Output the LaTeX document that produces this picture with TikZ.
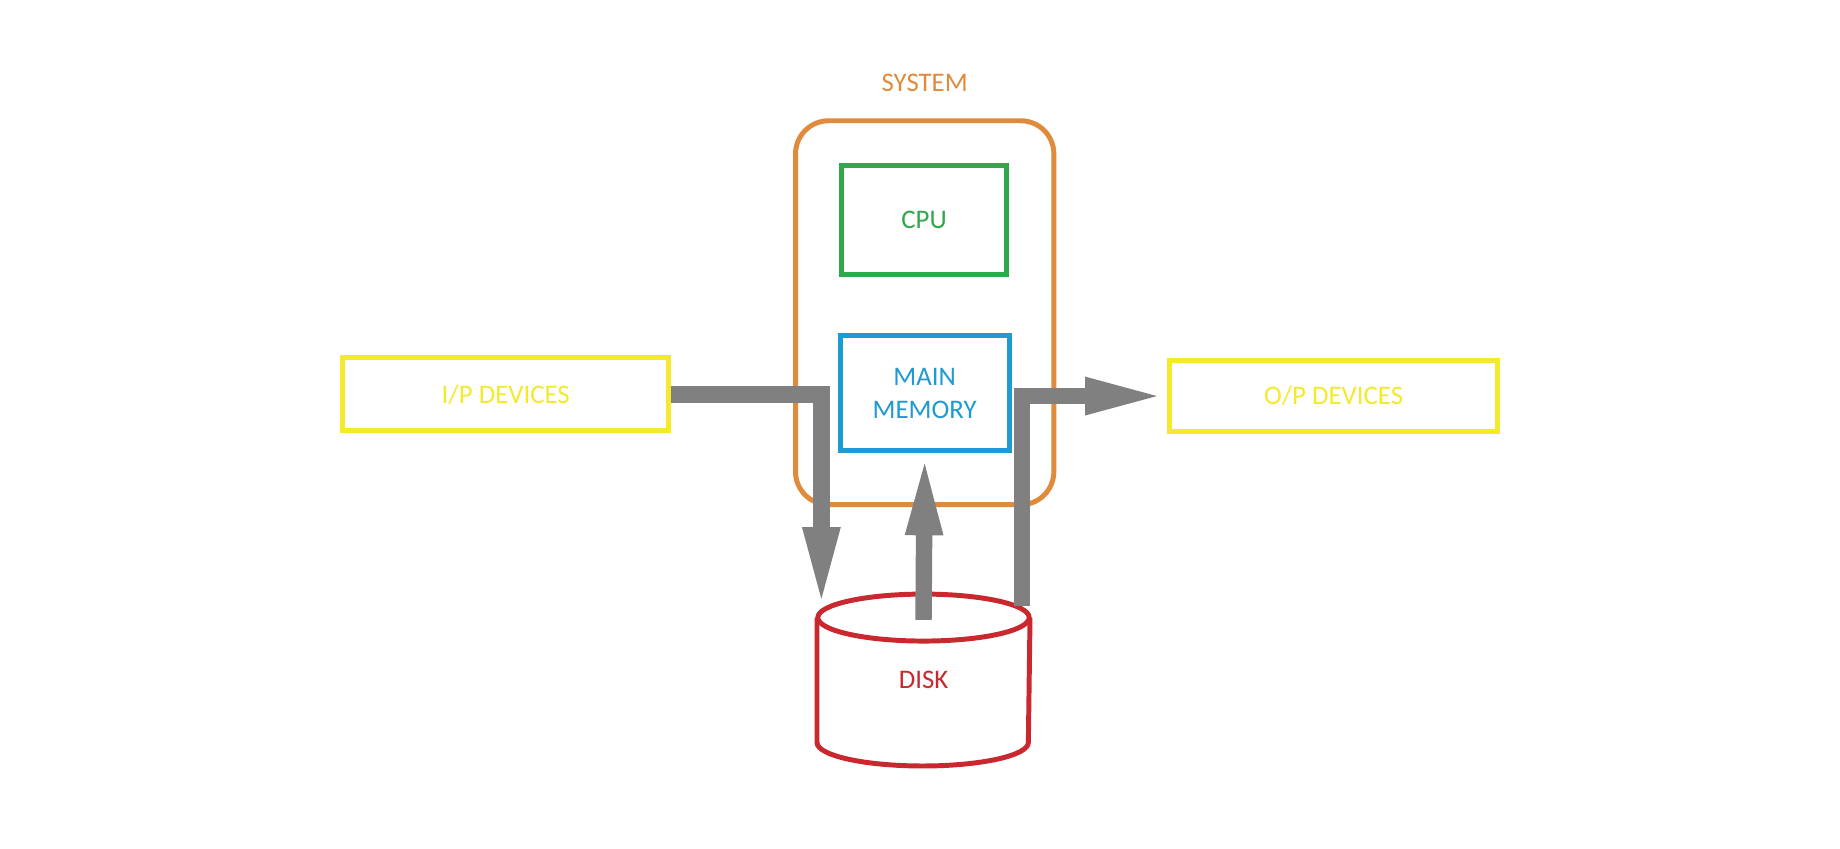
\documentclass[tikz,border=0pt]{standalone}
\usepackage{fontspec}
\setmainfont{Carlito}
\usetikzlibrary{positioning}
\usetikzlibrary {arrows.meta}
\definecolor{sysorange}{HTML}{E08A3C}
\definecolor{cpugreen}{HTML}{2EA84A}
\definecolor{memblue}{HTML}{1E9BD0}
\definecolor{devyellow}{HTML}{F2EA2A}
\definecolor{diskred}{HTML}{C8282E}
\definecolor{flowgray}{HTML}{808080}
\tikzset{unitbox/.style={rectangle,line width=1.2pt,fill=white,
inner sep=0pt,font=\fontsize{6.5}{8}\selectfont,align=center}}
\tikzset{flow/.style={line width=1.4mm,draw=flowgray,
-{Triangle[length=7mm,width=2.8mm]}}}

\begin{document}
\begin{tikzpicture}[x=0.01cm,y=-0.01cm]
        \useasboundingbox (0,0) rectangle (1568,723);

        \node[unitbox,draw=sysorange,rounded corners=8pt,minimum width=2.2cm,
              minimum height=3.27cm] (system) at (788,266.5) { };
        \node[text=sysorange,font=\fontsize{6.5}{8}\selectfont] (systemlbl) [above=0.1cm of system] {SYSTEM};

        \node[unitbox,draw=cpugreen,text=cpugreen,minimum width=1.41cm,
              minimum height=0.93cm] (cpu) at (787.5,187.5) {CPU};
        \node[unitbox,draw=memblue,text=memblue,minimum width=1.44cm,
              minimum height=0.98cm] (memory) at (788,335) {MAIN\\MEMORY};

        \node[unitbox,draw=devyellow,text=devyellow,minimum width=2.78cm,
              minimum height=0.62cm] (input) at (431,336) {I/P DEVICES};
        \node[unitbox,draw=devyellow,text=devyellow,minimum width=2.79cm,
              minimum height=0.61cm] (output) at (1136.5,337.5) {O/P DEVICES};

        % disk drawn as a cylinder around a plain node
        \node[rectangle,draw=none,minimum width=1.8cm,minimum height=1.05cm,
              text=diskred,font=\fontsize{6.5}{8}\selectfont] (disk) at (787,579.5) {DISK};
        \draw[diskred,line width=1.2pt] (disk.north west) -- (disk.south west)
             arc[start angle=180,end angle=360,x radius=0.9cm,y radius=0.2cm]
             -- (disk.north east);
        \draw[diskred,line width=1.2pt] (disk.north) ellipse[x radius=0.9cm,y radius=0.2cm];

        \coordinate (diskin) at ([xshift=-0.87cm,yshift=0.07cm]disk.north);
        \coordinate (diskout) at ([xshift=0.84cm,yshift=0.1cm]disk.north);
        \coordinate (disktop) at ([yshift=-0.02cm]disk.north);

        \draw[flow] (input.east) -| (diskin);
        \draw[flow] (disktop) -- (memory.south);
        \draw[flow] (diskout) |- (output.west);

    \end{tikzpicture}
\end{document}
